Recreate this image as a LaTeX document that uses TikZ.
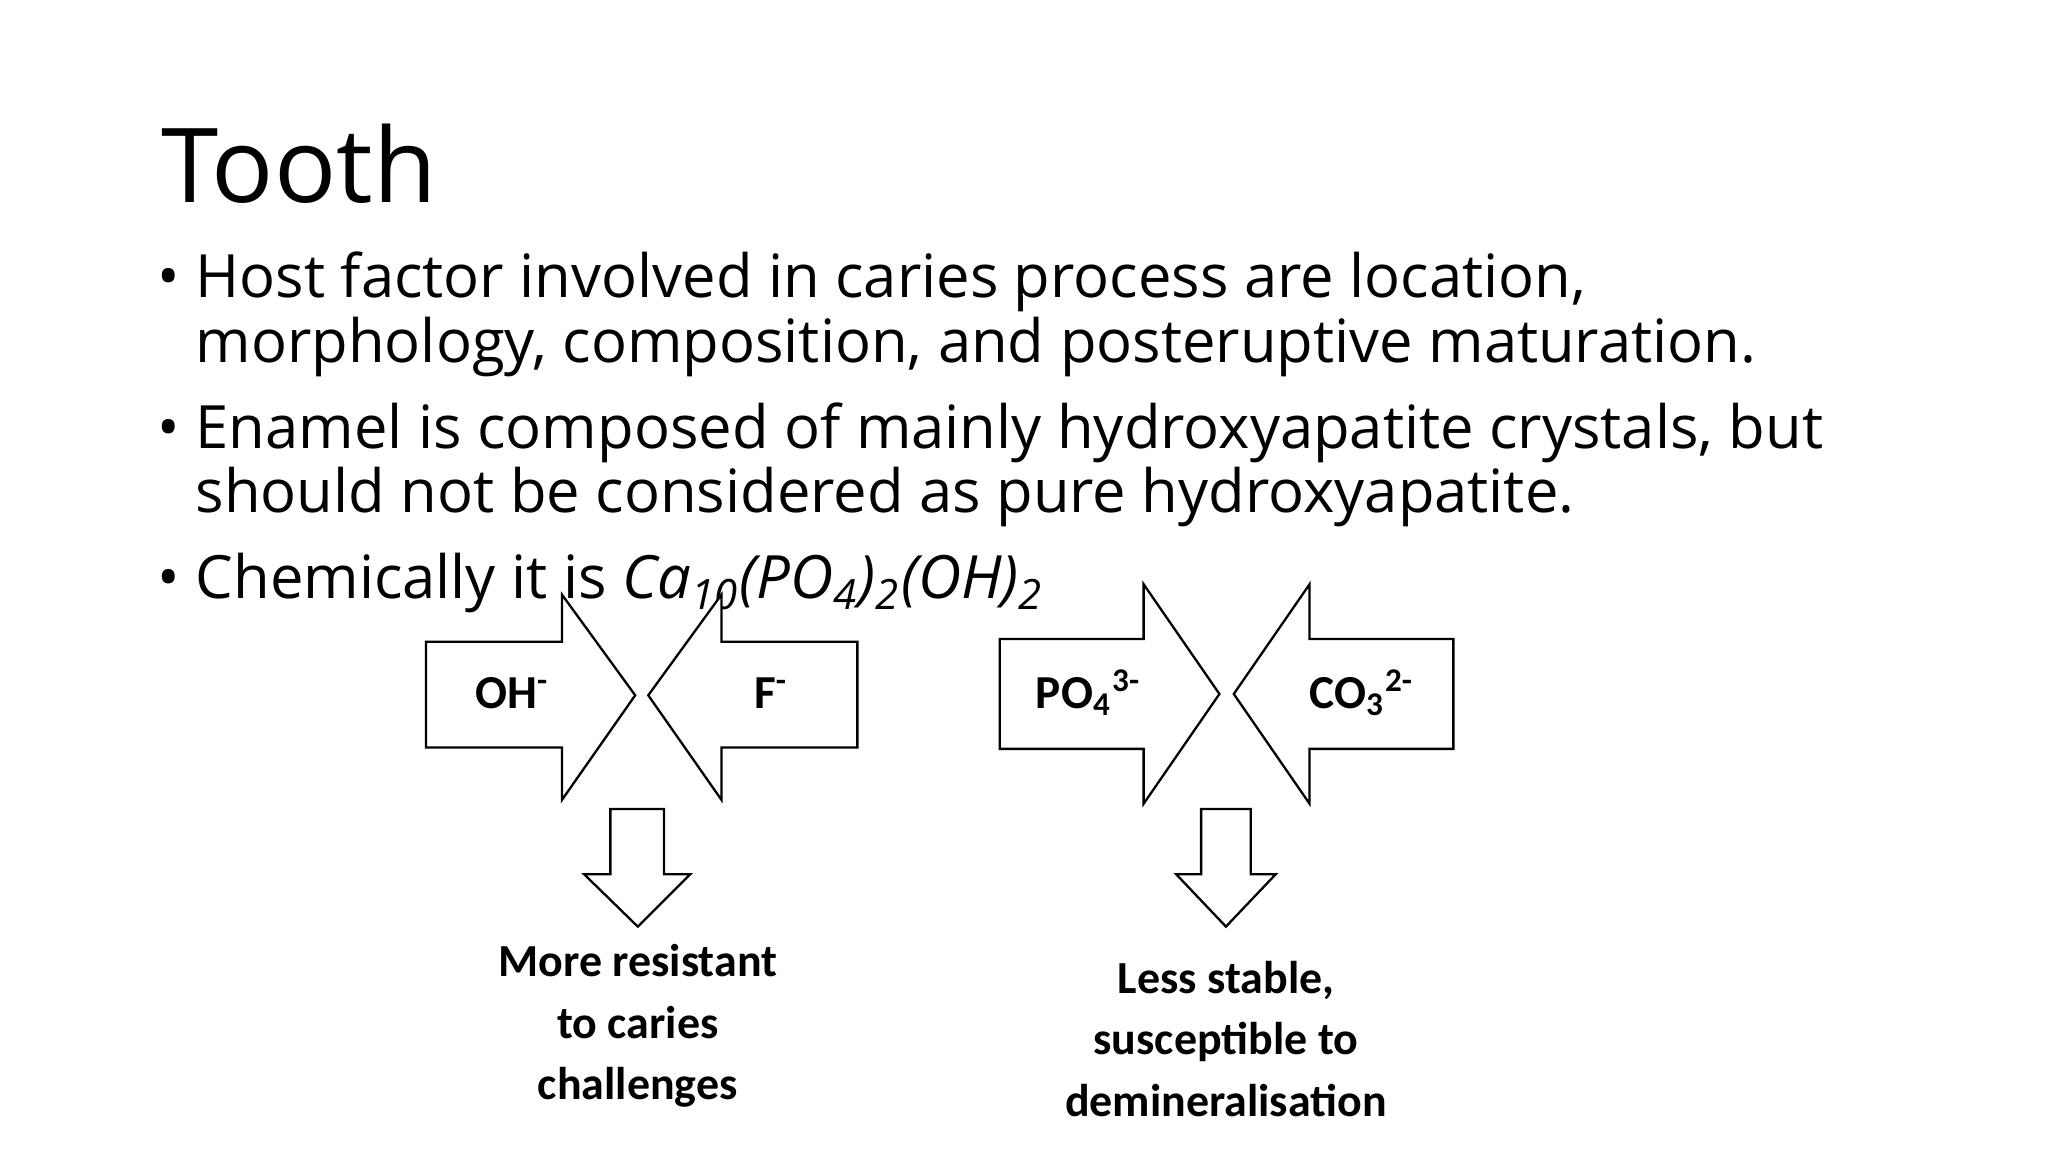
\documentclass[tikz,border=0pt]{standalone}
\usepackage{fontspec}
\setmainfont{Open Sans}
\newfontfamily\lblfont{Carlito}
\begin{document}
\begin{tikzpicture}[x=0.1mm,y=-0.1mm,
  shp/.style={draw=black,line width=0.5pt,fill=white},
  body/.style={anchor=base west,font=\fontsize{13}{16}\selectfont,inner sep=0},
  lbl/.style={font=\lblfont\bfseries\fontsize{10.3}{13}\selectfont,align=center}]
\useasboundingbox (0,0) rectangle (1567,881);
\node[anchor=base west,inner sep=0,font=\fontsize{22.5}{26}\selectfont] (title) at (123,155) {Tooth};
\node[body] (b1) at (120,228) {•};
\node[body] (l1) at (149,228) {Host factor involved in caries process are location,};
\node[body] (l2) at (149,277) {morphology, composition, and posteruptive maturation.};
\node[body] (b2) at (120,343) {•};
\node[body] (l3) at (149,343) {Enamel is composed of mainly hydroxyapatite crystals, but};
\node[body] (l4) at (149,392) {should not be considered as pure hydroxyapatite.};
\node[body] (b3) at (120,458) {•};
\node[body] (l5) at (149,458) {Chemically it is \textit{Ca\textsubscript{10}(PO\textsubscript{4})\textsubscript{2}(OH)\textsubscript{2}}};
% arrows
\draw[shp] (326,491) -- (430,491) -- (430,455) -- (486,532) -- (430,612) -- (430,572) -- (326,572) -- cycle;
\draw[shp] (656,491) -- (552,491) -- (552,455) -- (496,532) -- (552,612) -- (552,572) -- (656,572) -- cycle;
\draw[shp] (765,489) -- (875,489) -- (875,447) -- (933,531) -- (875,615) -- (875,573) -- (765,573) -- cycle;
\draw[shp] (1112,489) -- (1002,489) -- (1002,447) -- (944,531) -- (1002,615) -- (1002,573) -- (1112,573) -- cycle;
\draw[shp] (467,619) -- (508,619) -- (508,669) -- (528,669) -- (488,709) -- (447,669) -- (467,669) -- cycle;
\draw[shp] (919,619) -- (957,619) -- (957,669) -- (976,669) -- (938,709) -- (900,669) -- (919,669) -- cycle;
\node[lbl] (oh) at (392,530) {OH\textsuperscript{-}};
\node[lbl] (f) at (590,530) {F\textsuperscript{-}};
\node[lbl] (po) at (833,530) {PO\textsubscript{4}\textsuperscript{3-}};
\node[lbl] (co) at (1042,530) {CO\textsubscript{3}\textsuperscript{2-}};
\node[lbl,font=\lblfont\bfseries\fontsize{10}{13.4}\selectfont] (r1) at (488,785) {More resistant\\to caries\\challenges};
\node[lbl,font=\lblfont\bfseries\fontsize{10}{13.4}\selectfont] (r2) at (938,795) {Less stable,\\susceptible to\\demineralisation};
\end{tikzpicture}
\end{document}
